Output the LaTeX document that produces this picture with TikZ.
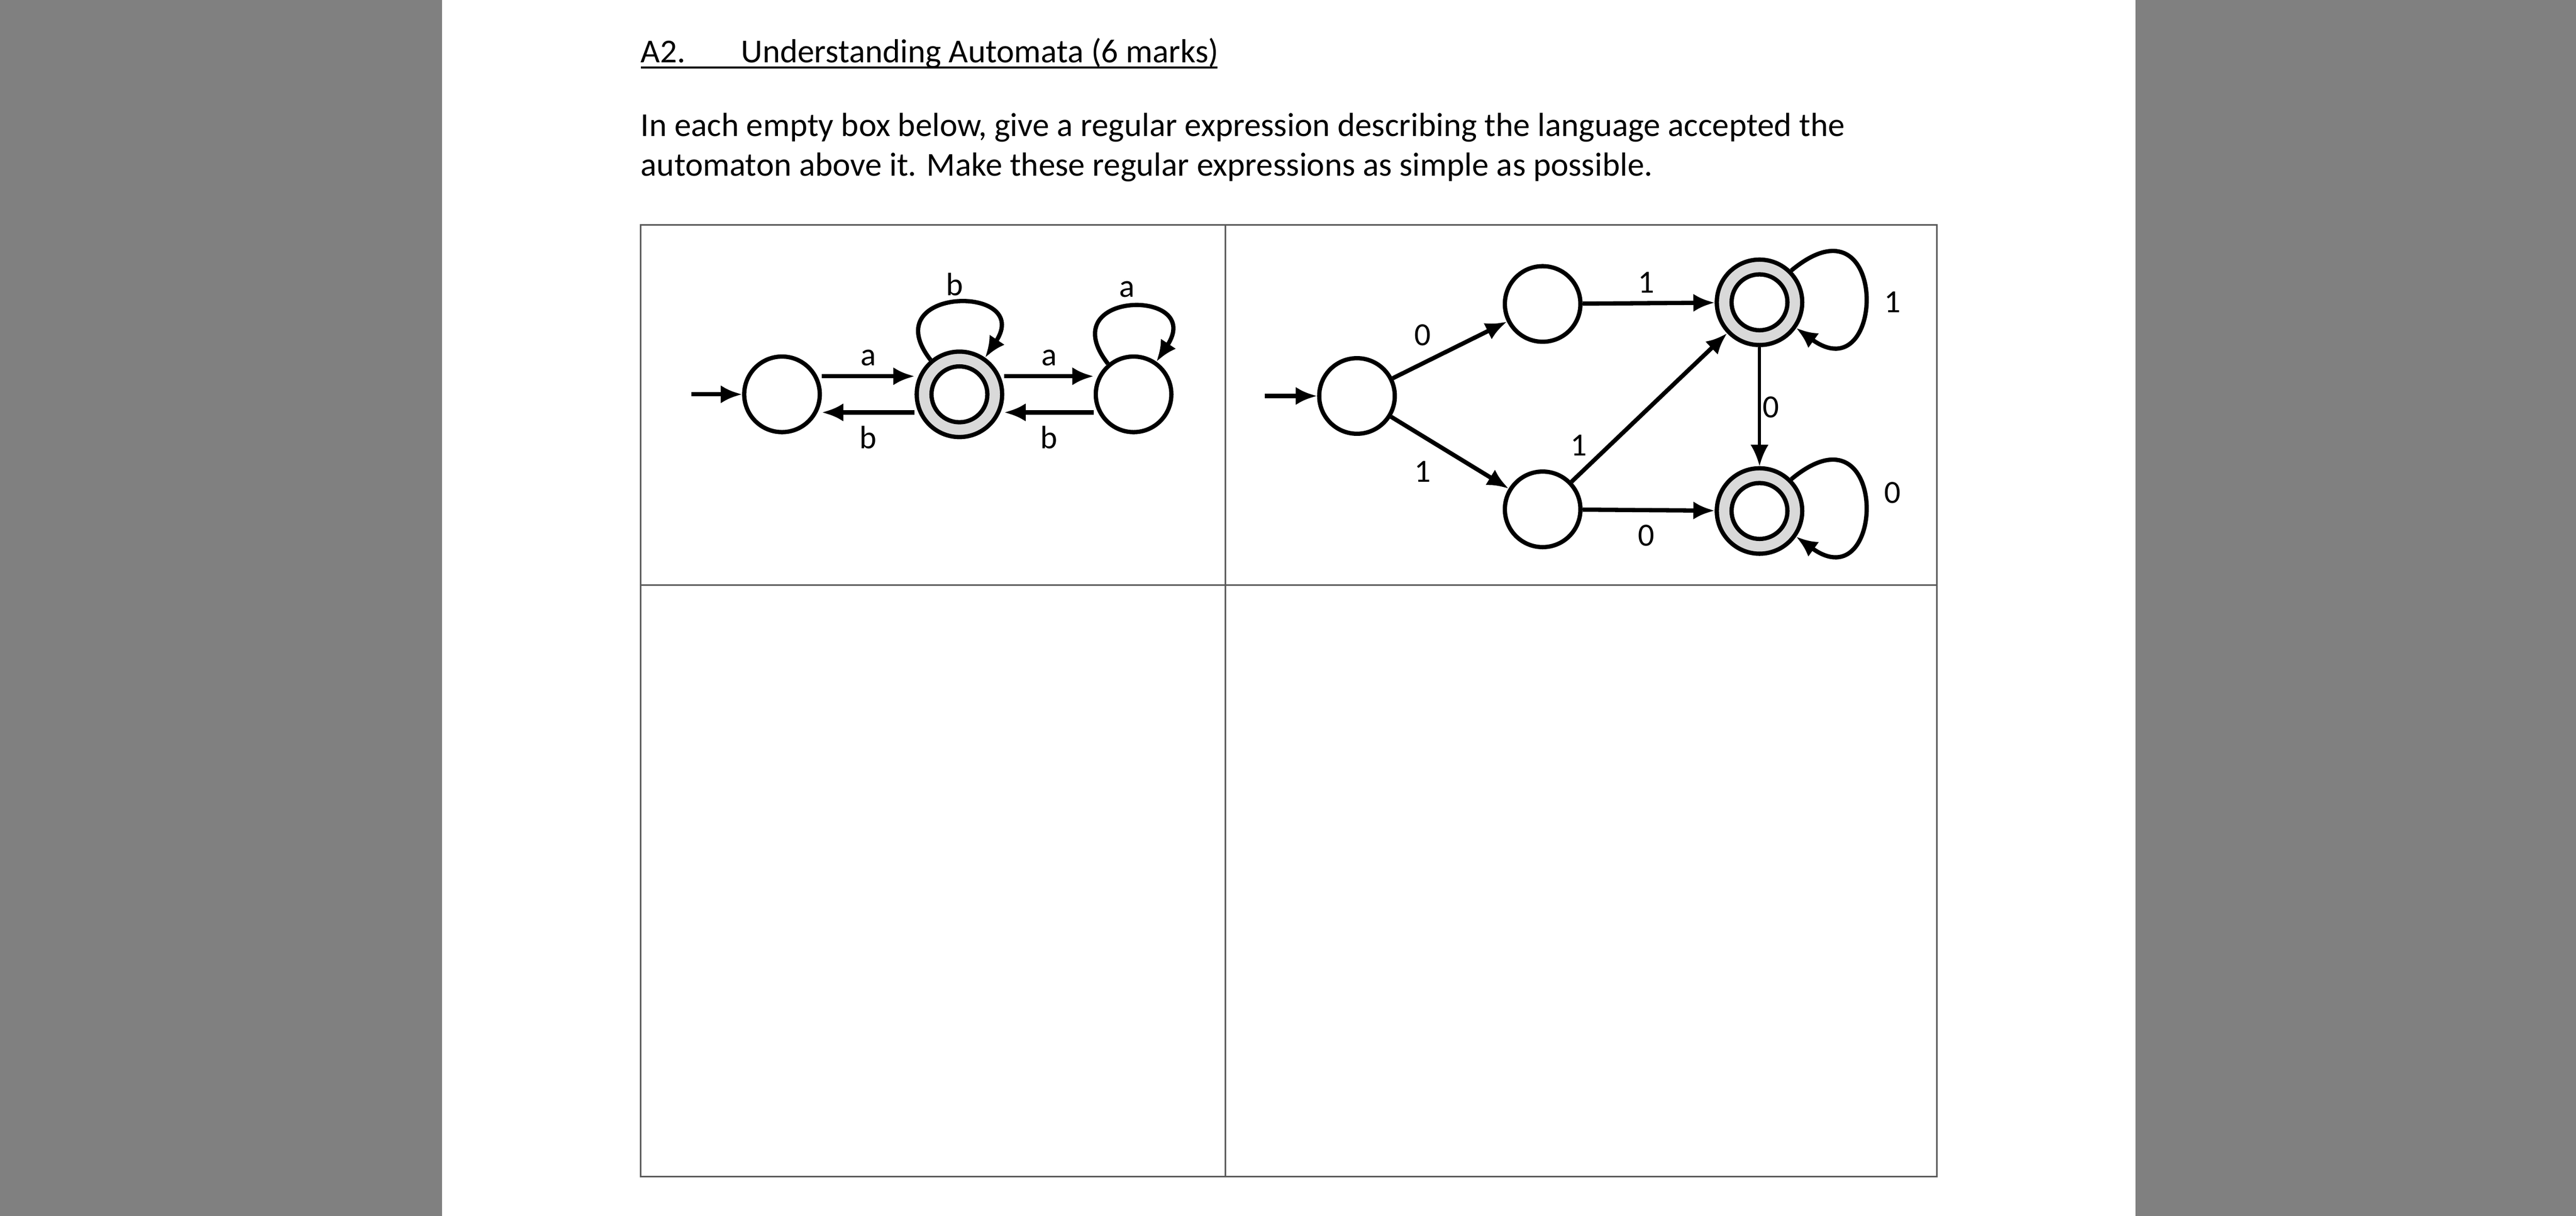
\documentclass[tikz,border=0pt]{standalone}
\usepackage{fontspec}
\setmainfont{Carlito}
\usetikzlibrary{arrows.meta}
\definecolor{bggray}{RGB}{128,128,128}
\begin{document}
\begin{tikzpicture}[x=1mm,y=-1mm,
  st/.style={circle,draw,line width=2.6mm,minimum size=46mm,inner sep=0pt,fill=white},
  acc/.style={circle,draw,line width=2.6mm,minimum size=52mm,inner sep=0pt,fill=gray!30,
     path picture={\draw[line width=2.6mm,fill=white] (path picture bounding box.center) circle (17mm);}},
  tr/.style={line width=2.6mm,-{Latex[length=13mm,width=11mm]}},
  thin/.style={line width=1.8mm,-{Latex[length=13mm,width=11mm]}},
  lab/.style={font=\fontsize{56}{66}\selectfont,inner sep=0pt},
  txt/.style={font=\fontsize{58}{70}\selectfont,inner sep=0pt,anchor=base west}]
\useasboundingbox (0,0) rectangle (1568,740);
\fill[bggray] (0,0) rectangle (1568,740);
\fill[white] (269,0) rectangle (1300,740);
% heading
\node[txt] (h1) at (390,38) {A2.};
\node[txt] (h2) at (451,38) {Understanding Automata (6 marks)};
\draw[line width=1.3mm] (390,41) -- (741,41);
\node[txt] (p1) at (390,83) {In each empty box below, give a regular expression describing the language accepted the};
\node[txt] (p2) at (390,107) {automaton above it.  Make these regular expressions as simple as possible.};
% table
\draw[line width=1mm,gray!70!black] (390,137) rectangle (1179,716);
\draw[line width=1mm,gray!70!black] (746,137) -- (746,716);
\draw[line width=1mm,gray!70!black] (390,356) -- (1179,356);
% left automaton
\node[st] (a) at (476,240) {};
\node[acc] (b) at (584,240) {};
\node[st] (c) at (690,240) {};
\coordinate (ai) at (421,240);
\draw[tr] (ai) -- (a);
\draw[tr] ([yshift=11mm]a.east) -- node[lab,above=5mm]{a} ([yshift=11mm]b.west);
\draw[tr] ([yshift=-11mm]b.west) -- node[lab,below=7mm]{b} ([yshift=-11mm]a.east);
\draw[tr] ([yshift=11mm]b.east) -- node[lab,above=5mm]{a} ([yshift=11mm]c.west);
\draw[tr] ([yshift=-11mm]c.west) -- node[lab,below=7mm]{b} ([yshift=-11mm]b.east);
\draw[tr] (b.130) .. controls +(-35,-45) and +(30,-45) .. (b.55);
\node[lab] (lb) at (581,173) {b};
\draw[tr] (c.130) .. controls +(-35,-45) and +(30,-45) .. (c.55);
\node[lab] (la) at (686,176) {a};
% right automaton
\node[st] (s0) at (826,241) {};
\node[st] (s1) at (939,185) {};
\node[st] (s2) at (939,310) {};
\node[acc] (f1) at (1071,184) {};
\node[acc] (f2) at (1071,311) {};
\coordinate (bi) at (770,241);
\draw[tr] (bi) -- (s0);
\draw[tr] (s0) -- (s1);
\node[lab] (l0) at (866,204) {0};
\draw[tr] (s0) -- (s2);
\node[lab] (l1) at (866,287) {1};
\draw[tr] (s1) -- (f1);
\node[lab] (l2) at (1002,172) {1};
\draw[tr] (s2) -- (f1);
\node[lab] (l3) at (961,271) {1};
\draw[thin] (f1) -- (f2);
\node[lab] (l4) at (1078,248) {0};
\draw[tr] (s2) -- (f2);
\node[lab] (l5) at (1002,326) {0};
\draw[tr] (f1.45) .. controls +(60,-50) and +(55,40) .. (f1.-35);
\node[lab] (l6) at (1152,184) {1};
\draw[tr] (f2.45) .. controls +(60,-50) and +(55,40) .. (f2.-35);
\node[lab] (l7) at (1152,300) {0};
\end{tikzpicture}
\end{document}
